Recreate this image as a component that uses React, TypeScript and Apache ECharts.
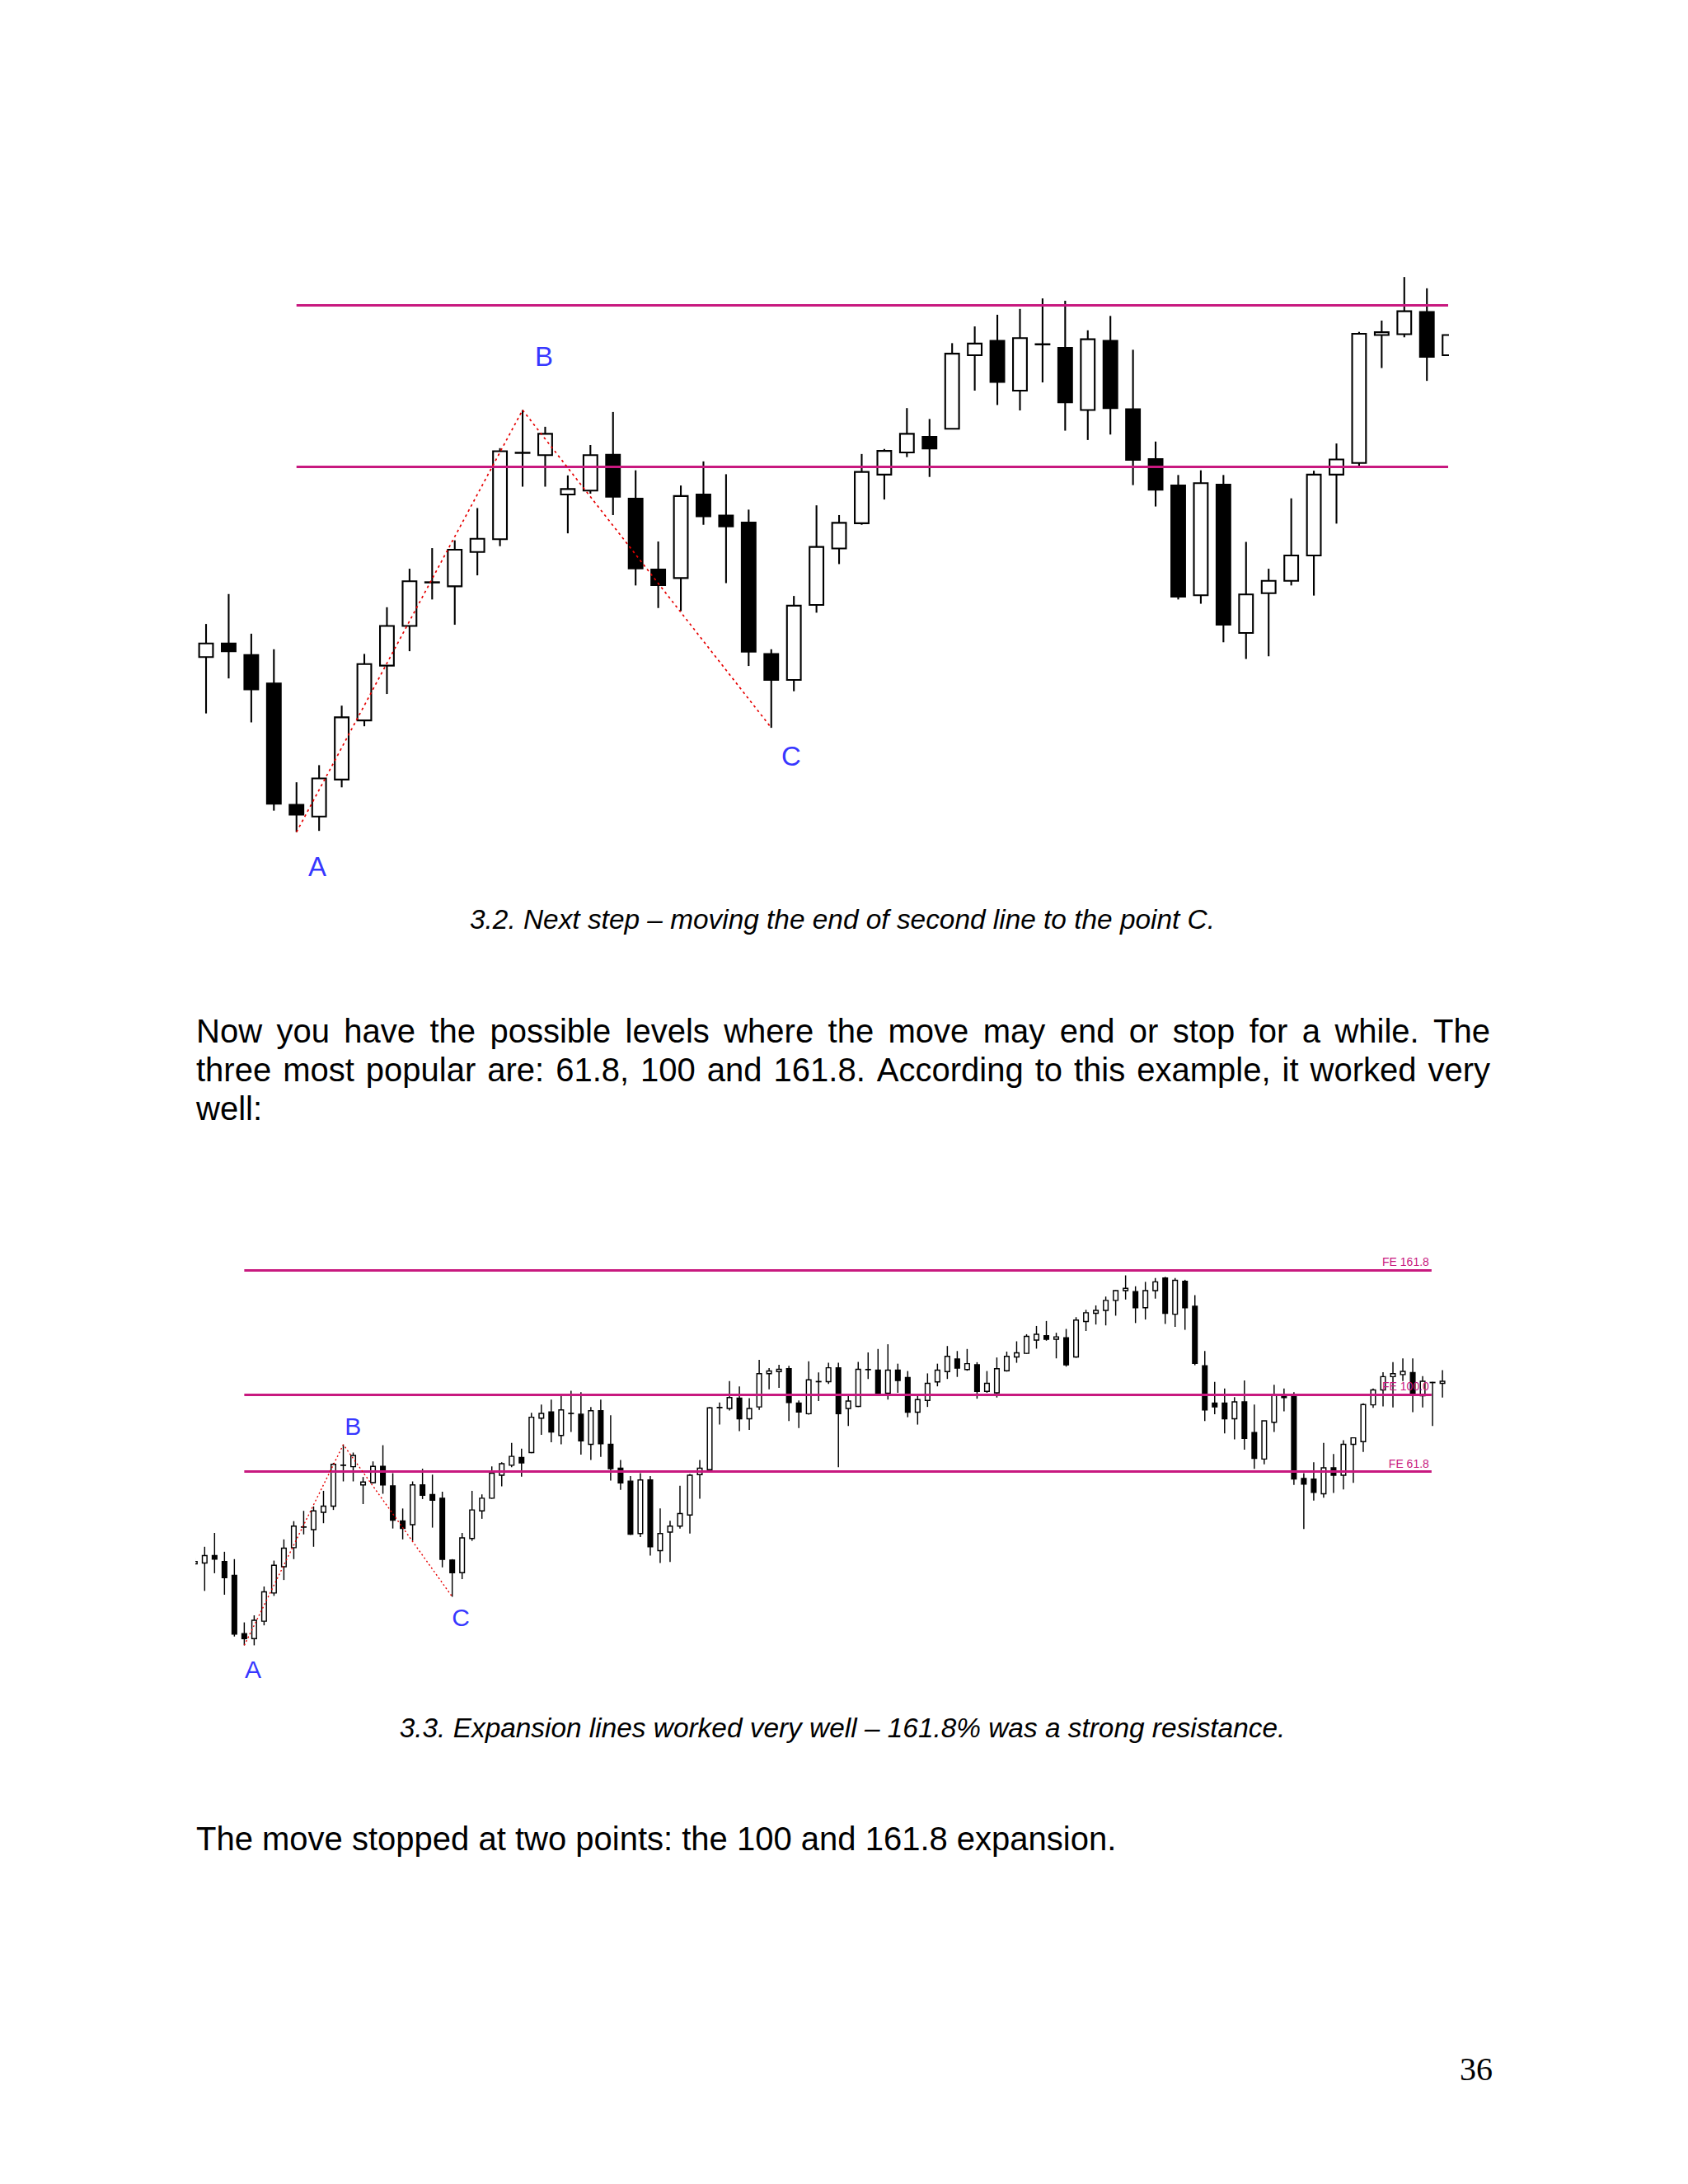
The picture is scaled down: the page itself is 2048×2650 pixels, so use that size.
import React, { useEffect, useRef } from 'react';
import * as echarts from 'echarts';

// ---------- DATA ----------
// Top chart (figure 3.2): [open, close, low, high] per bar, price in chart points
const TOP_OHLC: number[][] = [
  [578, 613, 433, 663], [613, 593, 523, 740], [583, 495, 410, 638], [510, 201, 183, 598],
  [198, 173, 128, 256], [168, 266, 131, 300], [263, 423, 243, 453], [415, 560, 400, 586],
  [556, 658, 483, 706], [658, 773, 593, 805], [770, 770, 726, 858], [760, 854, 661, 878],
  [848, 882, 788, 961], [881, 1107, 863, 1115], [1103, 1103, 1016, 1213], [1097, 1152, 1016, 1170],
  [996, 1010, 896, 1045], [1006, 1097, 998, 1123], [1098, 990, 943, 1208], [985, 806, 762, 1058],
  [803, 763, 704, 875], [781, 992, 696, 1019], [996, 940, 918, 1081], [942, 914, 768, 1048],
  [924, 592, 555, 957], [586, 519, 396, 598], [519, 710, 490, 735], [712, 861, 692, 968],
  [857, 923, 817, 943], [922, 1054, 918, 1100], [1047, 1108, 983, 1113], [1104, 1152, 1092, 1218],
  [1144, 1114, 1041, 1190], [1165, 1358, 1165, 1385], [1354, 1384, 1263, 1428], [1391, 1285, 1226, 1458],
  [1263, 1398, 1212, 1473], [1382, 1382, 1284, 1500], [1373, 1233, 1160, 1494], [1213, 1395, 1136, 1418],
  [1391, 1218, 1150, 1455], [1215, 1085, 1020, 1368], [1087, 1008, 965, 1132], [1019, 733, 726, 1046],
  [737, 1025, 715, 1058], [1021, 661, 616, 1046], [640, 739, 573, 874], [742, 774, 580, 805],
  [774, 839, 762, 986], [839, 1047, 736, 1057], [1047, 1086, 921, 1127], [1077, 1409, 1069, 1414],
  [1406, 1413, 1321, 1443], [1408, 1467, 1400, 1555], [1465, 1350, 1288, 1526], [1354, 1406, 1354, 1406],
];
const TOP_LEVELS = [1483, 1067];
const TOP_ABC_INDEX = [4, 14, 25];
const TOP_LABELS = [
  { name: 'A', x: 4.92, y: 40 },
  { name: 'B', x: 14.95, y: 1351 },
  { name: 'C', x: 25.88, y: 324 },
];

// Bottom chart (figure 3.3)
const BOT_OHLC: number[][] = [
  [455, 463, 440, 475],
  [458, 483, 363, 513], [483, 471, 423, 560], [463, 408, 350, 496], [416, 216, 208, 471],
  [218, 201, 178, 256], [201, 263, 178, 280], [260, 360, 246, 378], [356, 450, 346, 466],
  [445, 508, 400, 538], [510, 583, 471, 600], [580, 580, 555, 635], [571, 635, 513, 650],
  [630, 651, 593, 703], [651, 793, 638, 798], [790, 790, 735, 860], [785, 823, 735, 833],
  [723, 733, 658, 750], [731, 786, 728, 803], [786, 723, 693, 858], [720, 603, 575, 763],
  [601, 575, 538, 643], [588, 723, 533, 735], [723, 688, 675, 778], [690, 671, 578, 758],
  [678, 470, 443, 700], [468, 425, 343, 471], [425, 543, 403, 560], [541, 638, 533, 703],
  [635, 678, 608, 691], [678, 763, 676, 786], [756, 795, 718, 800], [790, 820, 783, 866],
  [816, 798, 751, 846], [833, 953, 831, 968],
  [950, 966, 893, 996], [971, 903, 868, 1013], [891, 978, 861, 1028], [966, 966, 903, 1043],
  [963, 873, 826, 1038], [861, 975, 808, 988], [975, 863, 818, 1013], [861, 778, 738, 960],
  [780, 730, 706, 808], [736, 556, 553, 753], [558, 740, 546, 763], [740, 513, 483, 753],
  [500, 558, 458, 643], [563, 583, 461, 601], [583, 626, 575, 720], [621, 756, 558, 760],
  [758, 780, 676, 808], [775, 985, 771, 988], [986, 986, 928, 1003], [983, 1020, 976, 1076],
  [1018, 948, 906, 1058], [948, 983, 910, 1018], [988, 1101, 978, 1148], [1101, 1110, 1048, 1120],
  [1108, 1116, 1053, 1131], [1118, 1003, 940, 1128], [1001, 971, 916, 1010], [965, 1080, 962, 1143],
  [1074, 1074, 1008, 1105], [1074, 1121, 1066, 1138], [1121, 965, 783, 1138], [983, 1008, 923, 1028],
  [990, 1116, 988, 1141], [1115, 1115, 1083, 1173],
  [1113, 1035, 1035, 1185], [1035, 1113, 1013, 1201], [1113, 1078, 1036, 1135], [1088, 970, 953, 1110],
  [970, 1013, 928, 1028], [1010, 1068, 988, 1102], [1073, 1113, 1058, 1135], [1108, 1160, 1083, 1195],
  [1151, 1120, 1090, 1178], [1115, 1135, 1111, 1185], [1131, 1041, 1016, 1140], [1041, 1068, 1036, 1110],
  [1036, 1118, 1020, 1156], [1111, 1160, 1108, 1176], [1158, 1172, 1138, 1211], [1170, 1228, 1168, 1235],
  [1215, 1235, 1186, 1263], [1230, 1218, 1213, 1280], [1218, 1226, 1153, 1240], [1223, 1131, 1125, 1253],
  [1158, 1283, 1155, 1293], [1278, 1308, 1246, 1318], [1306, 1316, 1268, 1333], [1316, 1350, 1265, 1363],
  [1350, 1383, 1298, 1385], [1383, 1391, 1353, 1435], [1380, 1325, 1273, 1398], [1325, 1383, 1285, 1413],
  [1383, 1413, 1356, 1426], [1426, 1306, 1270, 1430], [1303, 1418, 1260, 1426], [1415, 1325, 1250, 1420],
  [1330, 1136, 1130, 1368], [1128, 978, 940, 1178],
  [1001, 988, 963, 1073], [1001, 948, 898, 1051], [948, 1005, 878, 1021], [1005, 881, 843, 1078],
  [901, 813, 778, 996], [811, 941, 793, 941], [936, 1028, 903, 1063], [1028, 1020, 973, 1051],
  [1023, 743, 723, 1038], [745, 726, 573, 763], [743, 698, 670, 800], [693, 781, 680, 866],
  [781, 756, 696, 828], [756, 861, 708, 875], [861, 883, 730, 885], [870, 996, 835, 1000],
  [995, 1046, 985, 1051], [1046, 1091, 990, 1106], [1091, 1101, 986, 1140], [1098, 1109, 1076, 1153],
  [1105, 1035, 970, 1153], [1026, 1075, 986, 1093], [1071, 1071, 923, 1073], [1068, 1075, 1020, 1113],
];
const BOT_LEVELS = [1453, 1031, 768];
const BOT_LEVEL_NAMES = ['FE 161.8', 'FE 100.0', 'FE 61.8'];
const BOT_ABC_INDEX = [5, 15, 26];
const BOT_LABELS = [
  { name: 'A', x: 5.88, y: 98 },
  { name: 'B', x: 15.97, y: 923 },
  { name: 'C', x: 26.86, y: 274 },
];

const CAPTION_1 = '3.2. Next step \u2013 moving the end of second line to the point C.';
const CAPTION_2 = '3.3. Expansion lines worked very well \u2013 161.8% was a strong resistance.';
const PARA_1 = [
  'Now you have the possible levels where the move may end or stop for a while. The',
  'three most popular are: 61.8, 100 and 161.8. According to this example, it worked very',
  'well:',
];
const PARA_2 = 'The move stopped at two points: the 100 and 161.8 expansion.';
const PAGE_NO = '36';

// ---------- STYLE ----------
const SANS = "'Liberation Sans', Arial, sans-serif";
const SERIF = "'Liberation Serif', 'Times New Roman', serif";
const MAGENTA = '#c8197f';
const LABEL_BLUE = '#0000ff';

function candleRenderer(bodyWidth: number, lineWidth: number) {
  return (params: any, api: any) => {
    const x = api.value(0);
    const o = api.value(1);
    const c = api.value(2);
    const l = api.value(3);
    const h = api.value(4);
    const pO = api.coord([x, o]);
    const pC = api.coord([x, c]);
    const pL = api.coord([x, l]);
    const pH = api.coord([x, h]);
    const cx = pO[0];
    const top = Math.min(pO[1], pC[1]);
    const bot = Math.max(pO[1], pC[1]);
    const up = c >= o;
    const children: any[] = [];
    if (pH[1] < top) {
      children.push({ type: 'line', shape: { x1: cx, y1: pH[1], x2: cx, y2: top }, style: { stroke: '#000', lineWidth } });
    }
    if (pL[1] > bot) {
      children.push({ type: 'line', shape: { x1: cx, y1: bot, x2: cx, y2: pL[1] }, style: { stroke: '#000', lineWidth } });
    }
    if (bot - top < 1) {
      children.push({
        type: 'line',
        shape: { x1: cx - bodyWidth / 2 - lineWidth / 2, y1: top, x2: cx + bodyWidth / 2 + lineWidth / 2, y2: top },
        style: { stroke: '#000', lineWidth: lineWidth * 1.2 },
      });
    } else {
      children.push({
        type: 'rect',
        shape: { x: cx - bodyWidth / 2, y: top, width: bodyWidth, height: bot - top },
        style: { fill: up ? '#fff' : '#000', stroke: '#000', lineWidth },
      });
    }
    return { type: 'group', children };
  };
}

function justifiedLine(text: string, left: number, right: number, y: number, fontSize: number, family: string, justify: boolean) {
  const canvas = document.createElement('canvas');
  const ctx = canvas.getContext('2d') as CanvasRenderingContext2D;
  ctx.font = `${fontSize}px ${family}`;
  const words = text.split(' ');
  if (!justify || words.length < 2) {
    return [{ type: 'text', x: left, y, style: { text, fontSize, fontFamily: family, fill: '#000', align: 'left', verticalAlign: 'middle' } }];
  }
  const widths = words.map((w) => ctx.measureText(w).width);
  const total = widths.reduce((a, b) => a + b, 0);
  const gap = (right - left - total) / (words.length - 1);
  let cur = left;
  return words.map((w, i) => {
    const el = { type: 'text', x: cur, y, style: { text: w, fontSize, fontFamily: family, fill: '#000', align: 'left', verticalAlign: 'middle' } };
    cur += widths[i] + gap;
    return el;
  });
}

export default function App() {
  const ref = useRef<HTMLDivElement>(null);

  useEffect(() => {
    if (!ref.current) return;
    const chart = echarts.init(ref.current, null, { renderer: 'svg' });

    const TOP_X_MIN = -0.5;
    const TOP_X_MAX = 54.94;
    const BOT_X_MIN = 0.1;
    const BOT_X_MAX = 126.8;

    const topData = TOP_OHLC.map((d, i) => [i, d[0], d[1], d[2], d[3]]);
    const botData = BOT_OHLC.map((d, i) => [i, d[0], d[1], d[2], d[3]]);

    const abc = (ohlc: number[][], idx: number[]) =>
      idx.map((i, k) => [i, k === 1 ? ohlc[i][3] : ohlc[i][2]]);

    const textEls: any[] = [];
    textEls.push({ type: 'text', x: 1022, y: 1115, style: { text: CAPTION_1, fontSize: 33.4, fontStyle: 'italic', fontFamily: SANS, fill: '#000', align: 'center', verticalAlign: 'middle' } });
    PARA_1.forEach((line, i) => {
      textEls.push(...justifiedLine(line, 238, 1808, 1251 + i * 47, 40, SANS, i < PARA_1.length - 1));
    });
    textEls.push({ type: 'text', x: 1022, y: 2096, style: { text: CAPTION_2, fontSize: 33.4, fontStyle: 'italic', fontFamily: SANS, fill: '#000', align: 'center', verticalAlign: 'middle' } });
    textEls.push(...justifiedLine(PARA_2, 238, 1808, 2231, 40, SANS, false));
    textEls.push({ type: 'text', x: 1811, y: 2510, style: { text: PAGE_NO, fontSize: 40, fontFamily: SERIF, fill: '#000', align: 'right', verticalAlign: 'middle' } });

    const option: any = {
      animation: false,
      backgroundColor: '#fff',
      grid: [
        { left: 236.3, top: 330, width: 1520.7, height: 740, containLabel: false },
        { left: 237.5, top: 1500, width: 1522.2, height: 560, containLabel: false },
      ],
      xAxis: [
        { type: 'value', gridIndex: 0, min: TOP_X_MIN, max: TOP_X_MAX, show: false, splitLine: { show: false } },
        { type: 'value', gridIndex: 1, min: BOT_X_MIN, max: BOT_X_MAX, show: false, splitLine: { show: false } },
      ],
      yAxis: [
        { type: 'value', gridIndex: 0, min: 0, max: 1568, show: false, splitLine: { show: false } },
        { type: 'value', gridIndex: 1, min: 0, max: 1568, show: false, splitLine: { show: false } },
      ],
      series: [
        {
          type: 'custom', xAxisIndex: 0, yAxisIndex: 0, clip: true, z: 2,
          renderItem: candleRenderer(16.8, 2.1),
          encode: { x: 0, y: [1, 2, 3, 4] },
          data: topData,
        },
        {
          type: 'custom', xAxisIndex: 1, yAxisIndex: 1, clip: true, z: 2,
          renderItem: candleRenderer(5.6, 1.45),
          encode: { x: 0, y: [1, 2, 3, 4] },
          data: botData,
        },
        {
          type: 'line', xAxisIndex: 0, yAxisIndex: 0, z: 5, symbol: 'none', silent: true,
          lineStyle: { color: '#e60000', width: 1.7, type: [3, 4] },
          data: abc(TOP_OHLC, TOP_ABC_INDEX),
          markLine: {
            silent: true, symbol: 'none', animation: false,
            lineStyle: { color: MAGENTA, width: 3, type: 'solid' },
            label: { show: false },
            data: TOP_LEVELS.map((lv) => [{ coord: [TOP_ABC_INDEX[0], lv] }, { coord: [TOP_X_MAX, lv] }]),
          },
        },
        {
          type: 'line', xAxisIndex: 1, yAxisIndex: 1, z: 5, symbol: 'none', silent: true,
          lineStyle: { color: '#e60000', width: 1.4, type: [2, 3] },
          data: abc(BOT_OHLC, BOT_ABC_INDEX),
          markLine: {
            silent: true, symbol: 'none', animation: false,
            lineStyle: { color: MAGENTA, width: 2.8, type: 'solid' },
            label: {
              show: true, position: 'insideEndTop', distance: 3,
              color: MAGENTA, fontSize: 14, fontFamily: SANS,
              formatter: (p: any) => p.name,
            },
            data: BOT_LEVELS.map((lv, i) => [
              { name: BOT_LEVEL_NAMES[i], coord: [BOT_ABC_INDEX[0], lv] },
              { coord: [124.9, lv] },
            ]),
          },
        },
        {
          type: 'scatter', xAxisIndex: 0, yAxisIndex: 0, z: 6, silent: true,
          symbolSize: 1, itemStyle: { color: 'rgba(0,0,0,0)' },
          label: { show: true, position: 'inside', formatter: (p: any) => p.name, color: LABEL_BLUE, fontSize: 33, fontFamily: SANS },
          data: TOP_LABELS.map((d) => ({ name: d.name, value: [d.x, d.y] })),
        },
        {
          type: 'scatter', xAxisIndex: 1, yAxisIndex: 1, z: 6, silent: true,
          symbolSize: 1, itemStyle: { color: 'rgba(0,0,0,0)' },
          label: { show: true, position: 'inside', formatter: (p: any) => p.name, color: LABEL_BLUE, fontSize: 30, fontFamily: SANS },
          data: BOT_LABELS.map((d) => ({ name: d.name, value: [d.x, d.y] })),
        },
      ],
      graphic: { elements: textEls },
    };

    chart.setOption(option);
    return () => chart.dispose();
  }, []);

  return (
    <div
      ref={ref}
      style={{ position: 'absolute', left: 0, top: 0, width: 2048, height: 2650, background: '#fff' }}
    />
  );
}
